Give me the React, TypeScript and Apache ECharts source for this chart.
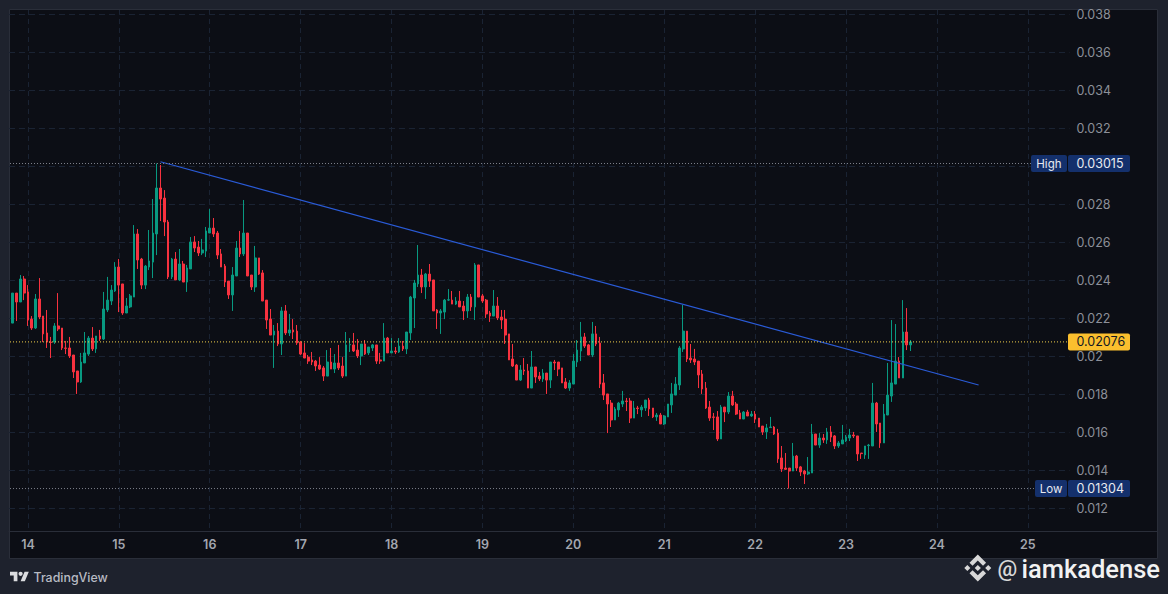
import React, { useEffect, useRef } from "react";
import * as echarts from "echarts";

// Hourly candles as [open, close, low, high], one list per day.
const day13 = [
  [0.02175,0.02333,0.02175,0.02333],[0.02333,0.02286,0.02186,0.02333],[0.02286,0.02407,0.02286,0.02428],[0.02407,0.02333,0.02296,0.02423],
];
const day14 = [
  [0.02339,0.02191,0.0216,0.02375],[0.02196,0.02149,0.02139,0.02212],[0.02149,0.02302,0.02144,0.02328],[0.02302,0.02207,0.02196,0.02412],
  [0.02212,0.02118,0.02075,0.02212],[0.02123,0.02075,0.02044,0.02244],[0.02075,0.02073,0.01991,0.02102],[0.02075,0.0216,0.02065,0.02175],
  [0.0216,0.02144,0.02133,0.02333],[0.02149,0.02044,0.02033,0.02149],[0.02044,0.02042,0.02012,0.02081],[0.02044,0.02002,0.01991,0.02102],
  [0.02007,0.01918,0.01886,0.02007],[0.01923,0.01865,0.01802,0.01923],[0.01865,0.0197,0.0186,0.02018],[0.01965,0.02018,0.01965,0.02128],
  [0.02012,0.02096,0.02002,0.02107],[0.02096,0.02039,0.02028,0.02154],[0.02039,0.02107,0.02018,0.02107],[0.02107,0.02091,0.02081,0.02139],
  [0.02091,0.02249,0.02086,0.02339],[0.02244,0.02296,0.02233,0.02418],[0.02291,0.02349,0.0227,0.02375],[0.02344,0.0247,0.02339,0.02496],
];
const day15 = [
  [0.0247,0.02375,0.02233,0.02512],[0.02381,0.02228,0.02218,0.02381],[0.02228,0.02265,0.02228,0.02307],[0.0226,0.02318,0.02254,0.02328],
  [0.02312,0.02644,0.02312,0.02691],[0.02644,0.02507,0.0246,0.0267],[0.02512,0.02375,0.02354,0.02518],[0.02375,0.02475,0.02354,0.02481],
  [0.0247,0.02502,0.02454,0.02665],[0.02496,0.02649,0.02412,0.02828],[0.02644,0.02886,0.02533,0.03015],[0.02886,0.02828,0.02712,0.03007],
  [0.02833,0.02707,0.02633,0.02875],[0.02707,0.02418,0.02407,0.02718],[0.02418,0.02512,0.02407,0.02518],[0.02512,0.02402,0.02402,0.02549],
  [0.02402,0.02486,0.02396,0.02565],[0.02486,0.02391,0.02391,0.02502],[0.02391,0.02465,0.02339,0.02481],[0.0246,0.02602,0.0246,0.02628],
  [0.02602,0.0257,0.02549,0.02633],[0.02575,0.02544,0.02528,0.02607],[0.02544,0.0256,0.02533,0.02618],[0.02554,0.0266,0.02523,0.02681],
];
const day16 = [
  [0.02649,0.02675,0.02649,0.02775],[0.02675,0.02644,0.02628,0.02728],[0.02649,0.02533,0.02512,0.0266],[0.02539,0.0247,0.0247,0.02565],
  [0.02475,0.02391,0.02365,0.02486],[0.02396,0.02323,0.02302,0.02396],[0.02323,0.02428,0.02239,0.0247],[0.02423,0.0257,0.02423,0.02607],
  [0.0257,0.02539,0.02523,0.0266],[0.02539,0.02649,0.02528,0.02823],[0.02649,0.02423,0.02423,0.02649],[0.02428,0.02365,0.02349,0.02428],
  [0.02365,0.02518,0.02339,0.02581],[0.02518,0.02433,0.02428,0.02518],[0.02439,0.02291,0.02291,0.02454],[0.02296,0.02191,0.02144,0.02296],
  [0.02196,0.02112,0.02112,0.02249],[0.02112,0.02133,0.01939,0.02165],[0.02133,0.02065,0.02054,0.02175],[0.02065,0.02239,0.02007,0.0226],
  [0.02239,0.02123,0.02112,0.0227],[0.02123,0.02139,0.02107,0.02223],[0.02139,0.02128,0.02091,0.02196],[0.02133,0.0207,0.0206,0.02165],
];
const day17 = [
  [0.02075,0.02012,0.02007,0.02081],[0.02018,0.01991,0.01991,0.0207],[0.01996,0.01975,0.0196,0.02007],[0.01981,0.0197,0.01954,0.02023],
  [0.01975,0.01949,0.01923,0.01981],[0.01954,0.01933,0.01928,0.01996],[0.01939,0.01896,0.0187,0.01949],[0.01896,0.0197,0.01896,0.02033],
  [0.0197,0.01933,0.01933,0.02044],[0.01933,0.01965,0.01912,0.02012],[0.01965,0.01939,0.01928,0.0206],[0.01949,0.01896,0.01886,0.01996],
  [0.01896,0.0206,0.01896,0.02128],[0.0206,0.02062,0.02023,0.02096],[0.0206,0.02028,0.02023,0.02123],[0.02033,0.02002,0.01991,0.02091],
  [0.02002,0.02065,0.01954,0.02065],[0.02065,0.02012,0.02007,0.02086],[0.02018,0.02049,0.02007,0.02049],[0.02044,0.0206,0.02028,0.02065],
  [0.0206,0.01975,0.0196,0.0206],[0.01981,0.01975,0.0196,0.02018],[0.01975,0.02096,0.01975,0.02175],[0.02096,0.02018,0.02018,0.02102],
];
const day18 = [
  [0.02018,0.02028,0.02018,0.02096],[0.02028,0.02023,0.02012,0.02049],[0.02023,0.02054,0.02018,0.02096],[0.02054,0.02039,0.02028,0.02081],
  [0.02039,0.02128,0.02012,0.02128],[0.02123,0.02312,0.02086,0.02318],[0.02307,0.02386,0.02149,0.02402],[0.02381,0.02428,0.02365,0.02586],
  [0.02428,0.02365,0.02333,0.0246],[0.02365,0.02433,0.02302,0.02439],[0.02433,0.02396,0.02365,0.02486],[0.02402,0.02239,0.02239,0.02402],
  [0.02244,0.02228,0.02144,0.02249],[0.02228,0.02239,0.02118,0.02249],[0.02233,0.02296,0.02196,0.02302],[0.02296,0.02298,0.02291,0.02354],
  [0.02296,0.02275,0.02275,0.02344],[0.02275,0.02291,0.0227,0.02312],[0.02291,0.0226,0.0226,0.02344],[0.02265,0.02239,0.02191,0.02291],
  [0.02239,0.02312,0.02202,0.02328],[0.02312,0.0226,0.02239,0.02328],[0.0226,0.02481,0.02191,0.02491],[0.02481,0.02312,0.02312,0.02481],
];
const day19 = [
  [0.02318,0.02291,0.02281,0.02328],[0.02296,0.02223,0.02202,0.02302],[0.02228,0.02212,0.02181,0.02239],[0.02212,0.02265,0.02212,0.02349],
  [0.02265,0.02202,0.02191,0.02312],[0.02207,0.02191,0.02144,0.02244],[0.02196,0.02112,0.02065,0.02244],[0.02118,0.01981,0.01981,0.02118],
  [0.01986,0.01949,0.01944,0.02065],[0.01954,0.01875,0.01875,0.0196],[0.01875,0.01928,0.0187,0.01954],[0.01928,0.01923,0.01902,0.01991],
  [0.01923,0.01833,0.01833,0.0196],[0.01833,0.01944,0.01833,0.02028],[0.01944,0.01891,0.0186,0.01944],[0.01896,0.01881,0.0187,0.01918],
  [0.01881,0.01912,0.01865,0.01933],[0.01912,0.01875,0.01802,0.01912],[0.01875,0.0197,0.01833,0.0197],[0.0197,0.01965,0.01928,0.01981],
  [0.0197,0.01933,0.01896,0.0197],[0.01939,0.0186,0.0186,0.01939],[0.01865,0.01833,0.01828,0.01886],[0.01833,0.0186,0.01818,0.01875],
];
const day20 = [
  [0.01854,0.01975,0.01854,0.02012],[0.0197,0.02033,0.01944,0.02086],[0.02028,0.02102,0.01975,0.02181],[0.02102,0.02054,0.02044,0.02123],
  [0.0206,0.02007,0.02007,0.02065],[0.02007,0.02118,0.01996,0.02181],[0.02118,0.02065,0.02054,0.0216],[0.0207,0.01854,0.01833,0.02102],
  [0.0186,0.01796,0.0177,0.01907],[0.01802,0.01749,0.01596,0.01802],[0.01754,0.01665,0.01628,0.0177],[0.01665,0.01723,0.01665,0.01733],
  [0.01718,0.01754,0.01681,0.0176],[0.01749,0.01765,0.01733,0.01818],[0.01765,0.01762,0.01712,0.01781],[0.01765,0.01675,0.01649,0.01781],
  [0.01675,0.01728,0.01675,0.01765],[0.01728,0.01725,0.01696,0.01739],[0.01718,0.01733,0.01681,0.01744],[0.01728,0.0177,0.01712,0.0177],
  [0.0177,0.01723,0.01686,0.01781],[0.01728,0.01681,0.01675,0.01728],[0.01681,0.01691,0.0166,0.01702],[0.01691,0.01644,0.01644,0.01702],
];
const day21 = [
  [0.01644,0.01686,0.01639,0.01691],[0.01681,0.01749,0.01681,0.01749],[0.01744,0.01802,0.01702,0.0186],[0.01796,0.01854,0.01796,0.01891],
  [0.01849,0.02044,0.01823,0.02054],[0.02039,0.02133,0.02023,0.0227],[0.02133,0.01986,0.0197,0.02133],[0.01991,0.01981,0.01965,0.02065],
  [0.01986,0.0197,0.01954,0.02039],[0.01975,0.01902,0.01833,0.01975],[0.01907,0.01828,0.01802,0.01928],[0.01833,0.01728,0.01723,0.01865],
  [0.01733,0.01675,0.0166,0.01765],[0.01681,0.01679,0.01612,0.01702],[0.01681,0.01565,0.01554,0.01712],[0.01565,0.01733,0.01565,0.01744],
  [0.01733,0.01707,0.01654,0.01733],[0.01707,0.01791,0.01696,0.01812],[0.01791,0.01744,0.01739,0.01818],[0.01749,0.01696,0.01691,0.0176],
  [0.01702,0.0167,0.0167,0.01718],[0.0167,0.01707,0.0167,0.01712],[0.01707,0.01686,0.01686,0.01718],[0.01686,0.01696,0.01681,0.01712],
];
const day22 = [
  [0.01696,0.0167,0.01649,0.01712],[0.01675,0.01628,0.01628,0.01675],[0.01633,0.01602,0.01586,0.01633],[0.01602,0.01623,0.01565,0.01644],
  [0.01625,0.01628,0.01623,0.01681],[0.01628,0.01591,0.01586,0.01633],[0.01596,0.0146,0.01439,0.01618],[0.01465,0.01407,0.01391,0.01528],
  [0.01412,0.01405,0.01402,0.01491],[0.01412,0.01396,0.01304,0.01412],[0.01396,0.01475,0.01396,0.01544],[0.01475,0.01412,0.01396,0.01481],
  [0.01418,0.01391,0.0137,0.01423],[0.01396,0.01381,0.01328,0.01402],[0.01381,0.01391,0.01375,0.0147],[0.01386,0.01591,0.01386,0.01644],
  [0.01591,0.01533,0.01533,0.01591],[0.01533,0.0157,0.01518,0.01596],[0.0157,0.0156,0.01544,0.01591],[0.0156,0.01602,0.01539,0.01623],
  [0.01602,0.01575,0.01549,0.01633],[0.01581,0.01528,0.01512,0.01586],[0.01528,0.01544,0.01518,0.01554],[0.01539,0.0156,0.01539,0.01639],
];
const day23 = [
  [0.01554,0.01575,0.01549,0.01586],[0.0157,0.01586,0.01554,0.01618],[0.01586,0.01581,0.0157,0.01602],[0.01581,0.01486,0.01449,0.01581],
  [0.01491,0.01488,0.0146,0.01491],[0.01481,0.01528,0.0146,0.01528],[0.0153,0.01533,0.0146,0.01539],[0.01528,0.01754,0.01528,0.0186],
  [0.01754,0.01644,0.01602,0.0176],[0.01649,0.01544,0.01518,0.01649],[0.01544,0.01696,0.01544,0.01749],[0.01691,0.01796,0.01691,0.01965],
  [0.01791,0.0186,0.0176,0.02191],[0.01854,0.01975,0.01854,0.0217],[0.01975,0.01886,0.01886,0.01996],[0.01886,0.02128,0.01886,0.02296],
  [0.02128,0.0206,0.02033,0.02254],[0.0206,0.02076,0.02028,0.02086],
];

const dayLabels = ["14", "15", "16", "17", "18", "19", "20", "21", "22", "23", "24", "25"];
const priceTicks = [0.012, 0.014, 0.016, 0.018, 0.02, 0.022, 0.024, 0.026, 0.028, 0.03, 0.032, 0.034, 0.036, 0.038];
const priceLabels = [0.012, 0.014, 0.016, 0.018, 0.02, 0.022, 0.024, 0.026, 0.028, 0.032, 0.034, 0.036, 0.038];
const highPrice = 0.03015;
const lowPrice = 0.01304;
const lastPrice = 0.02076;
const trendStart = 0.03024;
const trendEnd = 0.01849;

const HOURS = 24;
const FIRST_DAY_INDEX = 5; // slot of the "14" tick
const SLOTS = 281;
const categories: string[] = [];
for (let j = 0; j < SLOTS; j++) {
  const k = j - FIRST_DAY_INDEX;
  categories.push(k % HOURS === 0 && k >= 0 ? dayLabels[k / HOURS] : "h" + j);
}
const isDayTick = (idx: number) => {
  const k = idx - FIRST_DAY_INDEX;
  return k >= 0 && k % HOURS === 0;
};

const rows = [["-", "-", "-", "-"] as any[]].concat(
  day13, day14, day15, day16, day17, day18, day19, day20, day21, day22, day23
);

const UP = "#089981";
const DOWN = "#f7323f";
const FONT = "Inter, Roboto, sans-serif";

const BINANCE =
  "M38.73 53.2 63.31 28.62 87.9 53.21l14.3-14.3L63.31 0 24.43 38.9z M0 63.31l14.3-14.3 14.3 14.3-14.3 14.3z M38.73 73.41l24.58 24.58 24.59-24.59 14.3 14.29-38.88 38.89-38.88-38.88z M98.01 63.31l14.3-14.3 14.3 14.3-14.3 14.3z M77.83 63.3 63.31 48.78 52.58 59.51l-1.24 1.23-2.54 2.54 14.51 14.51 14.51-14.51z";
const TV_MARK = "M14 22H7V11H0V4h14v18zM28 22h-8l7.5-18h8L28 22zM24 8a4 4 0 1 1-8 0a4 4 0 1 1 8 0z";

export default function App() {
  const ref = useRef<HTMLDivElement>(null);
  useEffect(() => {
    document.body.style.margin = "0";
    document.body.style.background = "#1e222d";
    echarts.graphic.registerShape("binanceMark", echarts.graphic.extendPath(BINANCE as any, {}) as any);
    echarts.graphic.registerShape("tvMark", echarts.graphic.extendPath(TV_MARK as any, {}) as any);
    const chart = echarts.init(ref.current!, undefined, { renderer: "svg" });
    chart.setOption({
      animation: false,
      backgroundColor: "#1e222d",
      grid: { left: 9.01, top: 10, width: 1060.5, height: 521.3, containLabel: false },
      xAxis: {
        type: "category",
        data: categories,
        boundaryGap: false,
        axisLine: { show: true, lineStyle: { color: "#2a2e39", width: 1 } },
        axisTick: { show: false },
        axisLabel: {
          interval: (i: number) => isDayTick(i),
          color: "#a3a6af",
          fontFamily: FONT,
          fontSize: 12.5,
          fontWeight: 600,
          margin: 7,
          hideOverlap: false,
        },
        splitLine: {
          show: true,
          interval: (i: number) => isDayTick(i),
          lineStyle: { color: "#1a2333", type: [5, 4], width: 1 },
        },
      },
      yAxis: {
        type: "value",
        position: "right",
        min: 0.01079,
        max: 0.03823,
        axisLine: { show: false },
        axisTick: { show: false, customValues: priceTicks },
        axisLabel: {
          customValues: priceLabels,
          color: "#8d9099",
          fontFamily: FONT,
          fontSize: 12.5,
          margin: 7,
          formatter: (v: number) => String(v),
        },
        splitLine: { show: true, lineStyle: { color: "#1a2333", type: [6, 4], width: 1 } },
      },
      series: [
        {
          type: "candlestick",
          data: rows,
          barWidth: 2.2,
          clip: false,
          itemStyle: { color: UP, color0: DOWN, borderColor: UP, borderColor0: DOWN, borderWidth: 1 },
          markLine: {
            silent: true,
            symbol: "none",
            label: { show: false },
            lineStyle: { color: "#2a5bd7", width: 1.2, type: "solid" },
            data: [[{ coord: [40, trendStart] }, { coord: [256, trendEnd] }]],
          },
        },
      ],
    });

    const py = (v: number) => chart.convertToPixel({ yAxisIndex: 0 }, v) as number;
    const guide = (v: number, x2: number, stroke: string) => ({
      type: "line",
      z: 6,
      shape: { x1: 10, y1: py(v), x2, y2: py(v) },
      style: { stroke, lineWidth: 1, lineDash: [1, 2] },
    });
    const box = (x: number, y: number, width: number, height: number, fill: string) => ({
      type: "rect",
      z: 7,
      shape: { x, y, width, height, r: 2 },
      style: { fill },
    });
    const tagText = (x: number, y: number, text: string, fill: string, size = 12.5) => ({
      type: "text",
      z: 8,
      x,
      y,
      style: { text, fill, font: `${size}px ${FONT}`, textVerticalAlign: "middle", verticalAlign: "middle" },
    });
    const NAVY = "#14306c";
    const hy = py(highPrice), ly = py(lowPrice), cy = py(lastPrice);
    chart.setOption({
      graphic: [
        { type: "rect", z: -1, shape: { x: 9.5, y: 9.5, width: 1148, height: 549 }, style: { fill: "#0c0e15", stroke: "#2a2e39", lineWidth: 1 } },
        { type: "line", z: -1, shape: { x1: 1069, y1: 531.5, x2: 1157, y2: 531.5 }, style: { stroke: "#2a2e39", lineWidth: 1 } },
        guide(highPrice, 1031, "#7d808a"),
        guide(lowPrice, 1035, "#7d808a"),
        guide(lastPrice, 1068, "#f0cf4a"),
        box(1031, hy - 8.5, 36, 17, NAVY),
        box(1068, hy - 8.5, 62, 17, NAVY),
        tagText(1036.3, hy, "High", "#e8eaf0", 11.5),
        tagText(1076.5, hy, String(highPrice), "#e8eaf0"),
        box(1035, ly - 8.5, 32, 17, NAVY),
        box(1068, ly - 8.5, 62, 17, NAVY),
        tagText(1039.7, ly, "Low", "#e8eaf0", 11.5),
        tagText(1076.5, ly, String(lowPrice), "#e8eaf0"),
        box(1068, cy - 8.5, 62, 17, "#fbbf2e"),
        tagText(1076.5, cy, String(lastPrice), "#131722"),
        { type: "tvMark", z: 8, x: 10, y: 569.6, scaleX: 0.53, scaleY: 0.53, style: { fill: "#dcdde0" } },
        { type: "text", z: 8, x: 33.5, y: 577.5, style: { text: "TradingView", fill: "#b8bbc4", font: `500 12.4px ${FONT}`, verticalAlign: "middle" } },
        { type: "binanceMark", z: 8, x: 964.3, y: 554.5, scaleX: 0.213, scaleY: 0.213, style: { fill: "#d8d8d8" } },
        { type: "text", z: 8, x: 997.5, y: 568.5, style: { text: "@", fill: "#d8d8d8", font: "500 22px Roboto, sans-serif", verticalAlign: "middle" } },
        { type: "text", z: 8, x: 1021.5, y: 568.5, style: { text: "iamkadense", fill: "#f2f2f2", font: "500 25.5px Roboto, sans-serif", verticalAlign: "middle" } },
      ],
    });
    return () => chart.dispose();
  }, []);
  return <div ref={ref} style={{ width: 1168, height: 594 }} />;
}
